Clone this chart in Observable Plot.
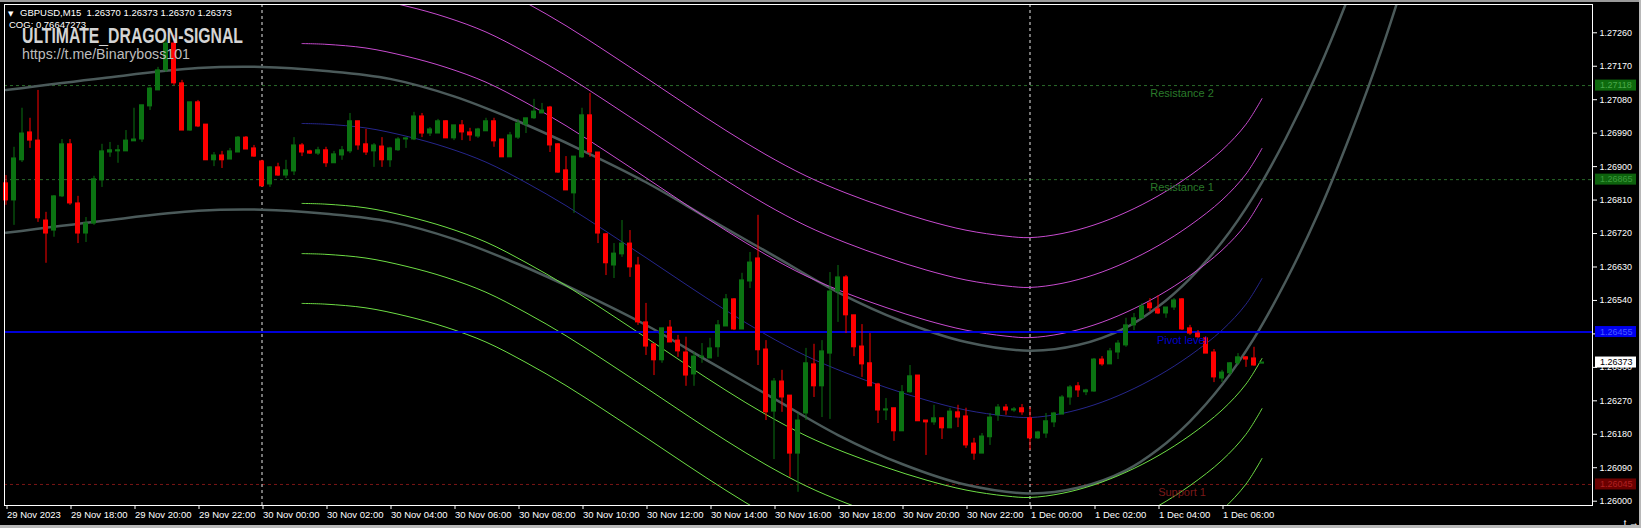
<!DOCTYPE html>
<html><head><meta charset="utf-8">
<script src="https://cdn.jsdelivr.net/npm/d3@7"></script>
<script src="https://cdn.jsdelivr.net/npm/@observablehq/plot@0.6"></script>
<style>
html,body{margin:0;padding:0;background:#000;}
#chart{position:relative;width:1641px;height:528px;overflow:hidden;background:#000;}
</style></head><body><div id="chart"></div>
<script>
// ---- data (GBPUSD M15) ----
const barStart = "2023-11-29T16:00Z";
const barMinutes = 15;
const opens = [1.26855,1.26809,1.26917,1.26992,1.26970,1.26755,1.26728,1.26820,1.26960,1.26801,1.26720,1.26747,1.26863,1.26938,1.26941,1.26941,1.26968,1.26973,1.27062,1.27105,1.27159,1.27231,1.27124,1.26997,1.27073,1.27013,1.26917,1.26930,1.26919,1.26938,1.26978,1.26949,1.26914,1.26852,1.26898,1.26876,1.26887,1.26957,1.26941,1.26935,1.26944,1.26909,1.26930,1.26941,1.27022,1.26960,1.26941,1.26954,1.26917,1.26944,1.26973,1.26973,1.27035,1.26989,1.26989,1.27022,1.26976,1.27011,1.26992,1.26981,1.26995,1.27022,1.26973,1.26925,1.26978,1.27013,1.27030,1.27043,1.27059,1.26960,1.26890,1.26828,1.26925,1.27038,1.26938,1.26718,1.26634,1.26664,1.26693,1.26634,1.26481,1.26422,1.26379,1.26467,1.26432,1.26400,1.26341,1.26387,1.26384,1.26414,1.26470,1.26543,1.26462,1.26591,1.26653,1.26408,1.26241,1.26322,1.26284,1.26128,1.26236,1.26368,1.26309,1.26397,1.26564,1.26602,1.26500,1.26416,1.26371,1.26314,1.26244,1.26250,1.26188,1.26293,1.26338,1.26217,1.26212,1.26223,1.26196,1.26239,1.26228,1.26155,1.26128,1.26172,1.26231,1.26252,1.26244,1.26250,1.26223,1.26169,1.26182,1.26212,1.26233,1.26279,1.26309,1.26293,1.26295,1.26381,1.26368,1.26400,1.26419,1.26473,1.26492,1.26532,1.26516,1.26505,1.26521,1.26543,1.26465,1.26451,1.26438,1.26400,1.26330,1.26344,1.26371,1.26387,1.26384,1.26370];
const highs = [1.26876,1.26952,1.27057,1.27030,1.27105,1.26777,1.26822,1.26973,1.26973,1.26820,1.26763,1.26874,1.26960,1.26965,1.26957,1.26997,1.27057,1.27065,1.27113,1.27167,1.27245,1.27253,1.27132,1.27073,1.27078,1.27013,1.26938,1.26941,1.26949,1.26981,1.26981,1.26957,1.26917,1.26900,1.26909,1.26917,1.26978,1.26962,1.26944,1.26952,1.26952,1.26941,1.26954,1.27043,1.27022,1.27000,1.26962,1.26978,1.26952,1.26978,1.26978,1.27046,1.27043,1.27005,1.27027,1.27024,1.27011,1.27024,1.27003,1.27003,1.27030,1.27030,1.26973,1.26992,1.27027,1.27030,1.27081,1.27070,1.27062,1.26962,1.26927,1.26927,1.27057,1.27097,1.26938,1.26720,1.26693,1.26755,1.26728,1.26656,1.26532,1.26422,1.26465,1.26486,1.26446,1.26441,1.26400,1.26424,1.26438,1.26486,1.26556,1.26545,1.26613,1.26669,1.26769,1.26432,1.26330,1.26352,1.26284,1.26236,1.26411,1.26422,1.26432,1.26615,1.26634,1.26607,1.26500,1.26475,1.26451,1.26317,1.26276,1.26250,1.26311,1.26365,1.26338,1.26217,1.26258,1.26223,1.26250,1.26258,1.26250,1.26169,1.26182,1.26236,1.26260,1.26260,1.26252,1.26260,1.26252,1.26188,1.26236,1.26239,1.26284,1.26311,1.26319,1.26301,1.26384,1.26389,1.26411,1.26432,1.26492,1.26505,1.26532,1.26545,1.26553,1.26521,1.26545,1.26545,1.26473,1.26459,1.26441,1.26408,1.26352,1.26373,1.26397,1.26389,1.26414,1.26373];
const lows = [1.26796,1.26742,1.26911,1.26949,1.26750,1.26640,1.26710,1.26817,1.26796,1.26693,1.26696,1.26742,1.26844,1.26925,1.26909,1.26941,1.26968,1.26965,1.27051,1.27105,1.27153,1.27118,1.26997,1.26995,1.27005,1.26917,1.26900,1.26895,1.26919,1.26938,1.26946,1.26925,1.26844,1.26844,1.26874,1.26868,1.26876,1.26927,1.26933,1.26930,1.26898,1.26909,1.26917,1.26935,1.26944,1.26930,1.26898,1.26898,1.26898,1.26941,1.26949,1.26970,1.26978,1.26981,1.26989,1.26976,1.26970,1.26970,1.26968,1.26976,1.26995,1.26952,1.26925,1.26925,1.26973,1.26989,1.27027,1.27043,1.26938,1.26882,1.26836,1.26774,1.26922,1.26925,1.26693,1.26607,1.26599,1.26656,1.26602,1.26473,1.26392,1.26338,1.26371,1.26427,1.26387,1.26309,1.26309,1.26371,1.26384,1.26387,1.26470,1.26459,1.26462,1.26572,1.26365,1.26217,1.26112,1.26239,1.26064,1.26024,1.26217,1.26279,1.26225,1.26220,1.26481,1.26451,1.26389,1.26333,1.26309,1.26209,1.26217,1.26161,1.26188,1.26290,1.26215,1.26123,1.26204,1.26166,1.26196,1.26198,1.26142,1.26110,1.26128,1.26150,1.26215,1.26231,1.26239,1.26231,1.26137,1.26166,1.26169,1.26198,1.26233,1.26258,1.26279,1.26284,1.26293,1.26363,1.26368,1.26381,1.26414,1.26459,1.26492,1.26510,1.26502,1.26492,1.26513,1.26459,1.26446,1.26438,1.26397,1.26319,1.26319,1.26338,1.26365,1.26360,1.26363,1.26370];
const closes = [1.26809,1.26922,1.26989,1.26970,1.26761,1.26720,1.26820,1.26960,1.26801,1.26720,1.26747,1.26866,1.26941,1.26944,1.26944,1.26970,1.26973,1.27065,1.27110,1.27159,1.27231,1.27124,1.26997,1.27073,1.27008,1.26917,1.26930,1.26917,1.26941,1.26978,1.26946,1.26927,1.26847,1.26898,1.26876,1.26890,1.26957,1.26938,1.26935,1.26944,1.26909,1.26933,1.26944,1.27022,1.26957,1.26938,1.26957,1.26917,1.26949,1.26973,1.26976,1.27035,1.26989,1.27000,1.27022,1.26976,1.27011,1.26992,1.26984,1.27000,1.27022,1.26968,1.26925,1.26984,1.27016,1.27030,1.27048,1.27051,1.26957,1.26884,1.26836,1.26927,1.27038,1.26938,1.26720,1.26640,1.26666,1.26693,1.26629,1.26481,1.26416,1.26379,1.26465,1.26427,1.26403,1.26338,1.26389,1.26389,1.26411,1.26473,1.26543,1.26462,1.26594,1.26642,1.26406,1.26239,1.26322,1.26279,1.26128,1.26217,1.26371,1.26309,1.26403,1.26564,1.26602,1.26500,1.26414,1.26368,1.26309,1.26244,1.26247,1.26188,1.26293,1.26336,1.26215,1.26212,1.26223,1.26196,1.26241,1.26225,1.26150,1.26128,1.26174,1.26225,1.26252,1.26244,1.26247,1.26239,1.26169,1.26185,1.26215,1.26236,1.26279,1.26306,1.26298,1.26298,1.26381,1.26368,1.26403,1.26424,1.26473,1.26492,1.26524,1.26519,1.26505,1.26521,1.26540,1.26462,1.26451,1.26441,1.26397,1.26333,1.26346,1.26371,1.26387,1.26381,1.26365,1.26373];

// Center of Gravity regression (bar index -> price) and band offsets
const cogBars   = [37,40,45,50,55,60,65,70,75,80,85,90,95,100,105,110,115,120,125,128,132,136,140,144,148,152,155,157];
const cogCenter = [1.27016,1.27014,1.27004,1.26982,1.26952,1.26912,1.26857,1.26795,1.26726,1.26655,1.26583,1.26513,1.26448,1.26391,1.26345,1.26306,1.26272,1.26245,1.26229,1.26225,1.26236,1.26259,1.26293,1.26337,1.26392,1.26460,1.26530,1.26599];
const cogBandOffsets = [0.00215, 0.00350, 0.00484];
// Long gray channel (bar index -> centre price) and its half width
const grayBars   = [0,12,24,32,40,48,56,64,72,80,88,96,104,112,120,128,134,140,144,148,152,156,160,164,168,172,176,180];
const grayCenter = [1.26914,1.26946,1.26973,1.26976,1.26965,1.26944,1.26897,1.26830,1.26752,1.26666,1.26566,1.26468,1.26370,1.26292,1.26236,1.26213,1.26228,1.26275,1.26331,1.26407,1.26505,1.26630,1.26785,1.26965,1.27175,1.27410,1.27680,1.27980];
const grayHalfWidth = 0.00192;

const levelNames  = ["Resistance 2","Resistance 1","Pivot level","Support 1"];
const levelValues = [1.27118, 1.26865, 1.26455, 1.26045];
const lastPrice = 1.26373;
const separatorBars = [32, 128];

const yTicks = [1.26000,1.26090,1.26180,1.26270,1.26360,1.26450,1.26540,1.26630,1.26720,1.26810,1.26900,1.26990,1.27080,1.27170,1.27260];
const xTickBars = [0,8,16,24,32,40,48,56,64,72,80,88,96,104,112,120,128,136,144,152];
const xTickLabels = ["29 Nov 2023","29 Nov 18:00","29 Nov 20:00","29 Nov 22:00","30 Nov 00:00","30 Nov 02:00","30 Nov 04:00","30 Nov 06:00","30 Nov 08:00","30 Nov 10:00","30 Nov 12:00","30 Nov 14:00","30 Nov 16:00","30 Nov 18:00","30 Nov 20:00","30 Nov 22:00","1 Dec 00:00","1 Dec 02:00","1 Dec 04:00","1 Dec 06:00"];

// ---- build ----
const t0 = Date.parse(barStart);
const T = i => new Date(t0 + i * barMinutes * 60000);
const bars = opens.map((o, i) => ({i, t: T(i), o, h: highs[i], l: lows[i], c: closes[i], up: closes[i] >= o}));
const bull = "#0b7312", bear = "#ff0000";
const cog = cogBars.map((b, k) => ({t: T(b), v: cogCenter[k]}));
const gray = grayBars.map((b, k) => ({t: T(b), v: grayCenter[k]}));
const labelMap = new Map(xTickBars.map((b, k) => [+T(b), xTickLabels[k]]));

const W = 1641, H = 528;
const mL = 4, mR = 49, mT = 4, mB = 23;
const font = "'Liberation Sans', Arial, sans-serif";

const bandLine = (off, color) => Plot.line(cog, {x: "t", y: d => d.v + off, stroke: color, strokeWidth: 1, curve: "catmull-rom", clip: true});

const chart = Plot.plot({
  width: W, height: H,
  marginLeft: mL, marginRight: mR, marginTop: mT, marginBottom: mB,
  style: {background: "#000", color: "#fff", fontFamily: font, fontSize: "9px"},
  x: {type: "utc", domain: [T(-0.1875), T(198.3125)], axis: null},
  y: {domain: [1.259884, 1.273361], axis: null},
  marks: [
    Plot.ruleY(levelValues.slice(0, 2), {stroke: "#2a6a2a", strokeDasharray: "3,3"}),
    Plot.ruleY([levelValues[3]], {stroke: "#7a1515", strokeDasharray: "3,3"}),
    Plot.ruleX(separatorBars.map(T), {stroke: "#e8e8e8", strokeDasharray: "3,3"}),
    Plot.line(gray, {x: "t", y: d => d.v + grayHalfWidth, stroke: "#4b5a5a", strokeWidth: 2.5, curve: "catmull-rom", clip: true}),
    Plot.line(gray, {x: "t", y: d => d.v - grayHalfWidth, stroke: "#4b5a5a", strokeWidth: 2.5, curve: "catmull-rom", clip: true}),
    ...cogBandOffsets.map(o => bandLine(o, "#c84bd0")),
    ...cogBandOffsets.map(o => bandLine(-o, "#6ede45")),
    bandLine(0, "#26268c"),
    Plot.ruleY([levelValues[2]], {stroke: "#0000d8", strokeWidth: 2}),
    Plot.ruleX(bars, {x: "t", y1: "l", y2: "h", stroke: d => d.up ? bull : bear, strokeWidth: 1}),
    Plot.rect(bars, {x1: d => T(d.i - 0.3125), x2: d => T(d.i + 0.3125), y1: d => Math.min(d.o, d.c), y2: d => Math.max(d.o, d.c), fill: d => d.up ? bull : bear, insetTop: -0.5, insetBottom: -0.5}),
    Plot.text(levelNames, {x: T(147), y: (d, k) => levelValues[k], text: d => d, dy: 8, fontSize: 11,
      fill: (d, k) => ["#2a7a2a", "#2a7a2a", "#0000cc", "#7a1a1a"][k]}),
    Plot.frame({stroke: "#fff"}),
    Plot.axisY(yTicks, {anchor: "right", tickSize: 4, tickPadding: 3, tickFormat: d => d.toFixed(5), fontSize: 9}),
    Plot.axisX(xTickBars.map(T), {anchor: "bottom", tickSize: 4, tickPadding: 2, tickFormat: d => labelMap.get(+d), textAnchor: "start", dx: 1, fontSize: 9.5})
  ]
});

document.getElementById("chart").appendChild(chart);

// right-axis value labels and header texts drawn with the chart's own y scale
const ys = chart.scale("y");
const svg = d3.select(chart);
const g = svg.append("g").attr("text-anchor", "start").attr("font-family", font);
const boxes = [
  {v: levelValues[0], fill: "#0d6b0d", text: "#4aa84a"},
  {v: levelValues[1], fill: "#0d620d", text: "#3c9a3c"},
  {v: levelValues[2], fill: "#0000f0", text: "#4a5cff"},
  {v: lastPrice, fill: "#ffffff", text: "#000000"},
  {v: levelValues[3], fill: "#6b0000", text: "#b02020"}
];
const bx = W - mR + 3;
for (const b of boxes) {
  const yy = ys.apply(b.v);
  g.append("rect").attr("x", bx).attr("y", yy - 5.5).attr("width", 41).attr("height", 11).attr("fill", b.fill);
  g.append("text").attr("x", bx + 5).attr("y", yy).attr("dy", "0.35em").attr("fill", b.text)
    .attr("font-size", 9).text(b.v.toFixed(5));
}
// window edges
g.append("rect").attr("x", 0).attr("y", 0).attr("width", W).attr("height", 2).attr("fill", "#9a9a9a");
g.append("rect").attr("x", 0).attr("y", H - 3).attr("width", W).attr("height", 3).attr("fill", "#b8b8b8");
g.append("rect").attr("x", W - 2).attr("y", 0).attr("width", 2).attr("height", H).attr("fill", "#b8b8b8");
// header
g.append("text").attr("x", 8).attr("y", 16).attr("fill", "#fff").attr("font-size", 7).attr("font-family", "DejaVu Sans").text("▼");
g.append("text").attr("x", 20).attr("y", 16).attr("fill", "#fff").attr("font-size", 9.5)
  .attr("xml:space", "preserve").text("GBPUSD,M15  1.26370 1.26373 1.26370 1.26373");
g.append("text").attr("x", 9).attr("y", 28).attr("fill", "#fff").attr("font-size", 9.5).text("COG: 0.76647273");
g.append("text").attr("x", 22).attr("y", 43).attr("fill", "#d4d4d4").attr("font-size", 22).attr("font-weight", "bold")
  .attr("textLength", 221).attr("lengthAdjust", "spacingAndGlyphs").text("ULTIMATE_DRAGON-SIGNAL");
g.append("text").attr("x", 22).attr("y", 59).attr("fill", "#bdbdbd").attr("font-size", 14)
  .attr("textLength", 168).attr("lengthAdjust", "spacingAndGlyphs").text("https://t.me/Binaryboss101");
</script>
</body></html>
